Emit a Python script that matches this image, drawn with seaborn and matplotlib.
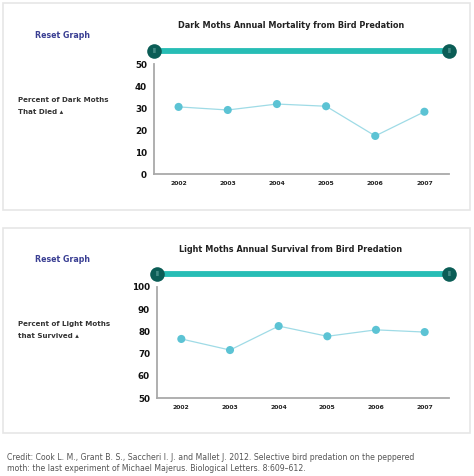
import matplotlib
matplotlib.use("Agg")
import matplotlib.pyplot as plt
import seaborn as sns
import pandas as pd
from matplotlib.patches import Rectangle
from matplotlib.lines import Line2D

years = ["2002", "2003", "2004", "2005", "2006", "2007"]
dark_died = [30.5, 29.1, 31.8, 30.8, 17.3, 28.3]
light_survived = [76.6, 71.6, 82.4, 77.8, 80.7, 79.7]

dark_ticks = [0, 10, 20, 30, 40, 50]
light_ticks = [50, 60, 70, 80, 90, 100]

sns.set_style("white")
plt.rcParams['font.family'] = ['DejaVu Sans']

W, H = 474, 476
fig = plt.figure(figsize=(W / 100, H / 100), dpi=100)

def fx(px):
    return px / W

def fy(py):
    return 1 - py / H

DOT = "#5cc3d4"
LINE = "#9fdbe6"
AXC = "#a9a9a9"
SLIDER = "#27bdb5"
HANDLE = "#0b5d56"
NAVY = "#3a3f93"

def panel(top, bottom, title, title_y, reset_y, slider_y, ax_box, label1, label2, label_y,
          values, yticks, ylim):
    fig.patches.append(Rectangle((fx(3), fy(bottom)), fx(470) - fx(3), fy(top) - fy(bottom),
                                 transform=fig.transFigure, fill=False,
                                 edgecolor="#e6e6e6", linewidth=1.2))
    fig.text(fx(291), fy(title_y), title, ha="center", va="center",
             fontsize=5.9, fontweight="bold", color="#222222")
    fig.text(fx(35), fy(reset_y), "Reset Graph", ha="left", va="center",
             fontsize=5.7, fontweight="bold", color=NAVY)
    fig.text(fx(18), fy(label_y), label1, ha="left", va="center",
             fontsize=5.1, fontweight="bold", color="#333333")
    fig.text(fx(18), fy(label_y + 12.5), label2 + " \u25b4", ha="left", va="center",
             fontsize=5.1, fontweight="bold", color="#333333")
    l, r, t, b = ax_box
    fig.lines.append(Line2D([fx(l), fx(449)], [fy(slider_y), fy(slider_y)],
                            transform=fig.transFigure, color=SLIDER, linewidth=4.2,
                            solid_capstyle="butt"))
    for cx in (l, 449):
        fig.lines.append(Line2D([fx(cx)], [fy(slider_y)], transform=fig.transFigure,
                                marker="o", markersize=10.5, color=HANDLE,
                                markeredgewidth=0))
        fig.text(fx(cx), fy(slider_y), "II", ha="center", va="center",
                 fontsize=5.0, color="#8cc7c1")
    ax = fig.add_axes([fx(l), fy(b), fx(r) - fx(l), fy(t) - fy(b)])
    df = pd.DataFrame({"year": years, "value": values})
    sns.lineplot(data=df, x="year", y="value", ax=ax, color=LINE, linewidth=0.9,
                 sort=False)
    sns.scatterplot(data=df, x="year", y="value", ax=ax, color=DOT, s=34,
                    edgecolor="none", zorder=3)
    ax.set_xlim(-0.5, 5.5)
    ax.set_ylim(*ylim)
    ax.set_yticks(yticks)
    ax.set_yticklabels([str(v) for v in yticks], fontsize=6.3, fontweight="bold",
                       color="#111111")
    ax.set_xticks(range(len(years)))
    ax.set_xticklabels(years, fontsize=4.4, fontweight="bold", color="#222222")
    ax.tick_params(axis="both", length=0)
    ax.tick_params(axis="y", pad=5)
    ax.tick_params(axis="x", pad=5)
    ax.set_xlabel("")
    ax.set_ylabel("")
    for s in ("top", "right"):
        ax.spines[s].set_visible(False)
    for s in ("left", "bottom"):
        ax.spines[s].set_color(AXC)
        ax.spines[s].set_linewidth(1.3)
    ax.set_facecolor("none")
    return ax

panel(3, 210, "Dark Moths Annual Mortality from Bird Predation", 25, 36, 51,
      (154, 449, 64, 174), "Percent of Dark Moths", "That Died", 100,
      dark_died, dark_ticks, (0, 50))

panel(228, 433, "Light Moths Annual Survival from Bird Predation", 249, 260, 274,
      (157, 449, 287, 398), "Percent of Light Moths", "that Survived", 324,
      light_survived, light_ticks, (50, 100))

fig.text(fx(7), fy(457), "Credit: Cook L. M., Grant B. S., Saccheri I. J. and Mallet J. 2012. "
         "Selective bird predation on the peppered", ha="left", va="center",
         fontsize=5.55, color="#555555")
fig.text(fx(7), fy(468.5), "moth: the last experiment of Michael Majerus. Biological Letters. 8:609\u2013612.",
         ha="left", va="center", fontsize=5.55, color="#555555")

fig.savefig("out.png", dpi=100, facecolor="white")
